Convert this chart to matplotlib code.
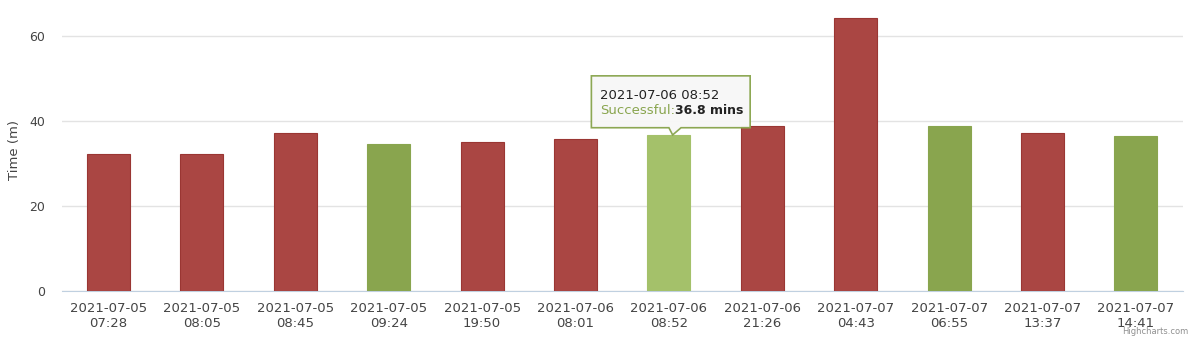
import numpy as np
import matplotlib.pyplot as plt
from matplotlib.patches import Polygon

# data
labels = ["2021-07-05\n07:28", "2021-07-05\n08:05", "2021-07-05\n08:45", "2021-07-05\n09:24",
          "2021-07-05\n19:50", "2021-07-06\n08:01", "2021-07-06\n08:52", "2021-07-06\n21:26",
          "2021-07-07\n04:43", "2021-07-07\n06:55", "2021-07-07\n13:37", "2021-07-07\n14:41"]
times = [32.2, 32.2, 37.2, 34.6, 35.1, 35.8, 36.8, 38.8, 64.2, 38.8, 37.2, 36.5]
status = ["fail", "fail", "fail", "ok", "fail", "fail", "ok", "fail", "fail", "ok", "fail", "ok"]
hover = 6

red = "#AA4643"
green = "#89A54E"
light_green = "#A4C16A"

colors = []
for i, s in enumerate(status):
    if i == hover:
        colors.append(light_green)
    elif s == "ok":
        colors.append(green)
    else:
        colors.append(red)

plt.rcParams['font.family'] = ['DejaVu Sans']
fig = plt.figure(figsize=(12, 3.37), dpi=100)
ax = fig.add_axes([0.0515, 0.1365, 0.934, 0.834])

x = np.arange(len(times))
ax.bar(x, times, width=0.46, color=colors, edgecolor=[c if c != red else "#9A3633" for c in colors],
       linewidth=0.8, zorder=3)

ax.set_xlim(-0.5, len(times) - 0.5)
ax.set_ylim(0, 66.1)
ax.set_yticks([0, 20, 40, 60])
ax.yaxis.grid(True, color="#e3e3e3", linewidth=1, zorder=0)
ax.set_xticks(x)
ax.set_xticklabels(labels, fontsize=9.5, color="#444444", linespacing=1.15)
ax.tick_params(axis='y', length=0, labelsize=9, labelcolor="#444444", pad=12)
ax.tick_params(axis='x', length=0, pad=8)
for side in ["top", "right", "left"]:
    ax.spines[side].set_visible(False)
ax.spines["bottom"].set_color("#C0D0E0")
ax.set_ylabel("Time (m)", fontsize=9.5, color="#444444")
ax.yaxis.set_label_coords(-0.036, 0.5)

# tooltip for hovered bar
bx0, bx1 = hover - 0.83, hover + 0.87
by0, by1 = 38.4, 50.6
tip = times[hover] - 0.1
pts = [(bx0, by0), (hover + 0.0, by0), (hover + 0.04, tip), (hover + 0.13, by0),
       (bx1, by0), (bx1, by1), (bx0, by1)]
ax.add_patch(Polygon(pts, closed=True, facecolor="#F7F7F7", edgecolor=green,
                     linewidth=1.2, zorder=5, alpha=0.97))
ax.text(bx0 + 0.09, 46.0, "2021-07-06 08:52", fontsize=9.5, color="#222222",
        va="center", ha="left", zorder=6)
t1 = ax.text(bx0 + 0.09, 42.4, "Successful:", fontsize=9.5, color=green,
             va="center", ha="left", zorder=6)
ax.annotate("36.8 mins", xy=(1, 0.5), xycoords=t1, va="center", ha="left",
            fontsize=9, fontweight="bold", color="#222222", zorder=6)

fig.text(0.99, 0.002, "Highcharts.com", fontsize=6, color="#909090", ha="right", va="bottom")

fig.savefig("out.png", dpi=100)
